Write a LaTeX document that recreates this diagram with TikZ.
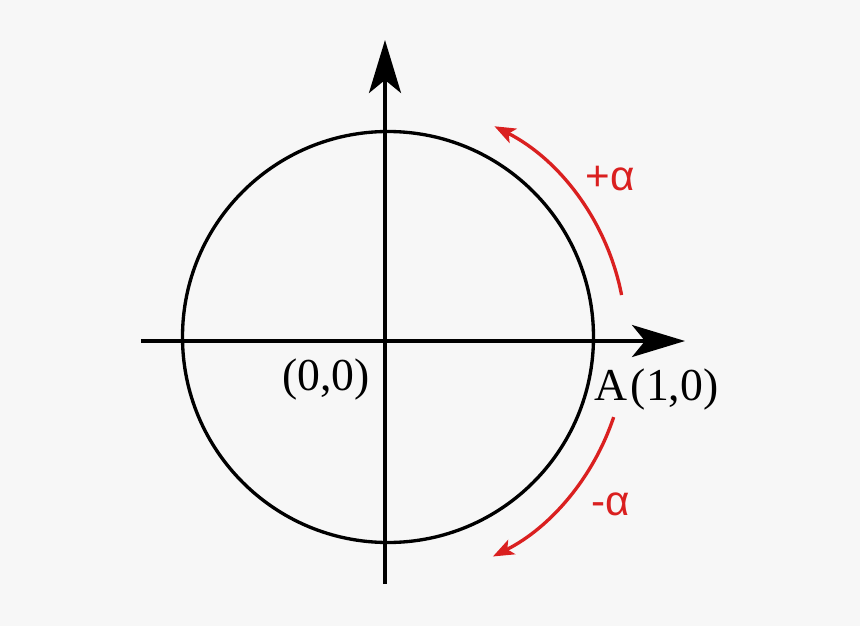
\documentclass[tikz,border=0pt]{standalone}
\usepackage{fontspec}
\setmainfont{Liberation Serif}
\newfontfamily\labelsans{Liberation Sans}
\usetikzlibrary{arrows.meta}
\definecolor{bggray}{RGB}{247,247,247}
\definecolor{arcred}{RGB}{218,32,32}

\begin{document}
\begin{tikzpicture}[line width=1.9pt,
  axis/.style={-{Stealth[length=1.06cm,width=0.64cm,inset=0.26cm]}},
  turn/.style={arcred,-{Stealth[length=0.42cm,width=0.32cm,inset=0.1cm]}},
  coordlabel/.style={font=\fontsize{26}{26}\selectfont,inner sep=0pt,anchor=base},
  anglabel/.style={arcred,font=\labelsans\fontsize{24}{24}\selectfont,inner sep=0pt,anchor=base}]
\fill[bggray] (-7.7,-5.7) rectangle (9.5,6.82);
\useasboundingbox (-7.7,-5.7) rectangle (9.5,6.82);
\coordinate (O) at (0,0);
\coordinate (C) at (0.06,0.08);
\draw[axis] (-4.88,0)--(6,0);
\draw[axis] (0,-4.86)--(0,6.02);
\draw (C) circle (4.11);
\draw[turn] (11:4.82) arc (11:63:4.82);
\draw[turn] (-18.4:4.82) arc (-18.4:-63.4:4.82);
\node[coordlabel] (origin) at (-1.18,-0.98) {(0,0)};
\node[coordlabel] (A) at (5.43,-1.18) {A\kern2pt(1,0)};
\node[anglabel] (plus) at (4.5,3.02) {+α};
\node[anglabel] (minus) at (4.52,-3.48) {-α};
\end{tikzpicture}
\end{document}
